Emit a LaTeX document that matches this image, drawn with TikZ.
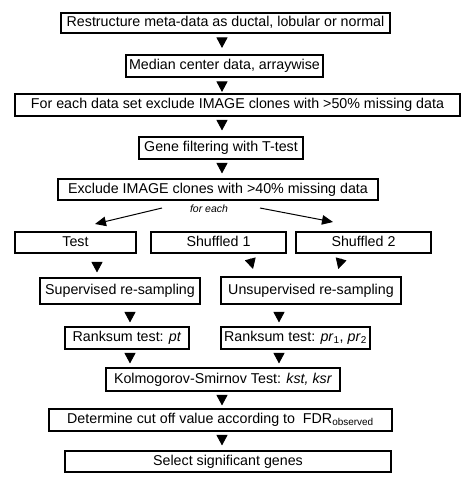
\documentclass[tikz,border=0pt]{standalone}
\usepackage{fontspec}
\setmainfont{Liberation Sans}
\usetikzlibrary{arrows.meta}
\begin{document}
\begin{tikzpicture}[x=1pt,y=-1pt,
  box/.style={draw, line width=1.05pt, inner sep=0pt,
    font=\fontsize{14.25}{16}\selectfont, text height=10pt, text depth=3pt},
  tri/.style={-{Triangle[width=11pt,length=10.5pt]}, line width=0.9pt},
  slant/.style={-{Triangle[width=9.5pt,length=11pt]}, line width=1pt},
  small/.style={font=\fontsize{10.5}{12}\selectfont\itshape, inner sep=0pt}]
\useasboundingbox (0,0) rectangle (474,480);
% boxes
\node[box, minimum width=329pt, minimum height=20pt] (b1) at (225.5,23) {Restructure meta-data as ductal, lobular or normal};
\node[box, minimum width=197pt, minimum height=22pt] (b2) at (224.5,66) {Median center data, arraywise};
\node[box, minimum width=445pt, minimum height=22pt] (b3) at (237.5,105) {For each data set exclude IMAGE clones with >50\% missing data};
\node[box, minimum width=164pt, minimum height=22pt] (b4) at (221,148) {Gene filtering with T-test};
\node[box, minimum width=320pt, minimum height=21pt] (b5) at (218,189.5) {Exclude IMAGE clones with >40\% missing data};
\node[small] (fe) at (209,209) {for each};
\node[box, minimum width=121pt, minimum height=21pt] (test) at (75.5,242.5) {Test};
\node[box, minimum width=135pt, minimum height=21pt] (s1) at (218.5,242.5) {Shuffled 1};
\node[box, minimum width=135pt, minimum height=21pt] (s2) at (363.5,242.5) {Shuffled 2};
\node[box, minimum width=160pt, minimum height=26pt] (sup) at (120,291) {Supervised re-sampling};
\node[box, minimum width=180pt, minimum height=27pt] (unsup) at (311,290.5) {Unsupervised re-sampling};
\node[box, minimum width=124pt, minimum height=22pt] (rpt) at (127,338) {Ranksum test: \textit{pt}};
\node[box, minimum width=149pt, minimum height=22pt] (rpr) at (295.5,338) {Ranksum test: \textit{pr}\textsubscript{1}, \textit{pr}\textsubscript{2}};
\node[box, minimum width=234pt, minimum height=23pt] (ks) at (223,379.5) {Kolmogorov-Smirnov Test: \textit{kst, ksr}};
\node[box, minimum width=343pt, minimum height=22pt] (det) at (220.5,420) {Determine cut off value according to\ \ FDR\textsubscript{observed}};
\node[box, minimum width=326pt, minimum height=21pt] (sel) at (228,461.5) {Select significant genes};
% guide coordinates
\coordinate (mx) at (222,0);
\coordinate (tx) at (97,0);
\coordinate (lx) at (130,0);
\coordinate (rx) at (279,0);
% vertical triangles
\draw[tri, shorten <=4.8pt, shorten >=6.5pt] (b1.south -| mx) -- (b2.north -| mx);
\draw[tri, shorten <=4.8pt, shorten >=1.5pt] (b2.south -| mx) -- (b3.north -| mx);
\draw[tri, shorten <=3.8pt, shorten >=6pt] (b3.south -| mx) -- (b4.north -| mx);
\draw[tri, shorten <=4.3pt, shorten >=5pt] (b4.south -| mx) -- (b5.north -| mx);
\draw[tri, shorten <=8.8pt, shorten >=5pt] (test.south -| tx) -- (sup.north -| tx);
\draw[tri, shorten <=7.8pt, shorten >=4pt] (sup.south -| lx) -- (rpt.north -| lx);
\draw[tri, shorten <=7.8pt, shorten >=4pt] (unsup.south -| rx) -- (rpr.north -| rx);
\draw[tri, shorten <=3.8pt, shorten >=4pt] (rpt.south -| lx) -- (ks.north -| lx);
\draw[tri, shorten <=3.8pt, shorten >=4pt] (rpr.south -| rx) -- (ks.north -| rx);
\draw[tri, shorten <=3.8pt, shorten >=3pt] (ks.south -| mx) -- (det.north -| mx);
\draw[tri, shorten <=3.8pt, shorten >=5pt] (det.south -| mx) -- (sel.north -| mx);
% tilted triangles from the shuffled sets
\coordinate (t1a) at (247.54,248.72);
\coordinate (t1b) at (253,269);
\coordinate (t2a) at (343.97,248.78);
\coordinate (t2b) at (338.3,269);
\draw[tri, shorten <=10.3pt] (t1a) -- (t1b);
\draw[tri, shorten <=10.3pt] (t2a) -- (t2b);
% for each arrows
\coordinate (fl1) at (162,208);
\coordinate (fl2) at (95,224);
\coordinate (fr1) at (260,208);
\coordinate (fr2) at (333,222);
\draw[slant] (fl1) -- (fl2);
\draw[slant] (fr1) -- (fr2);
\end{tikzpicture}
\end{document}
